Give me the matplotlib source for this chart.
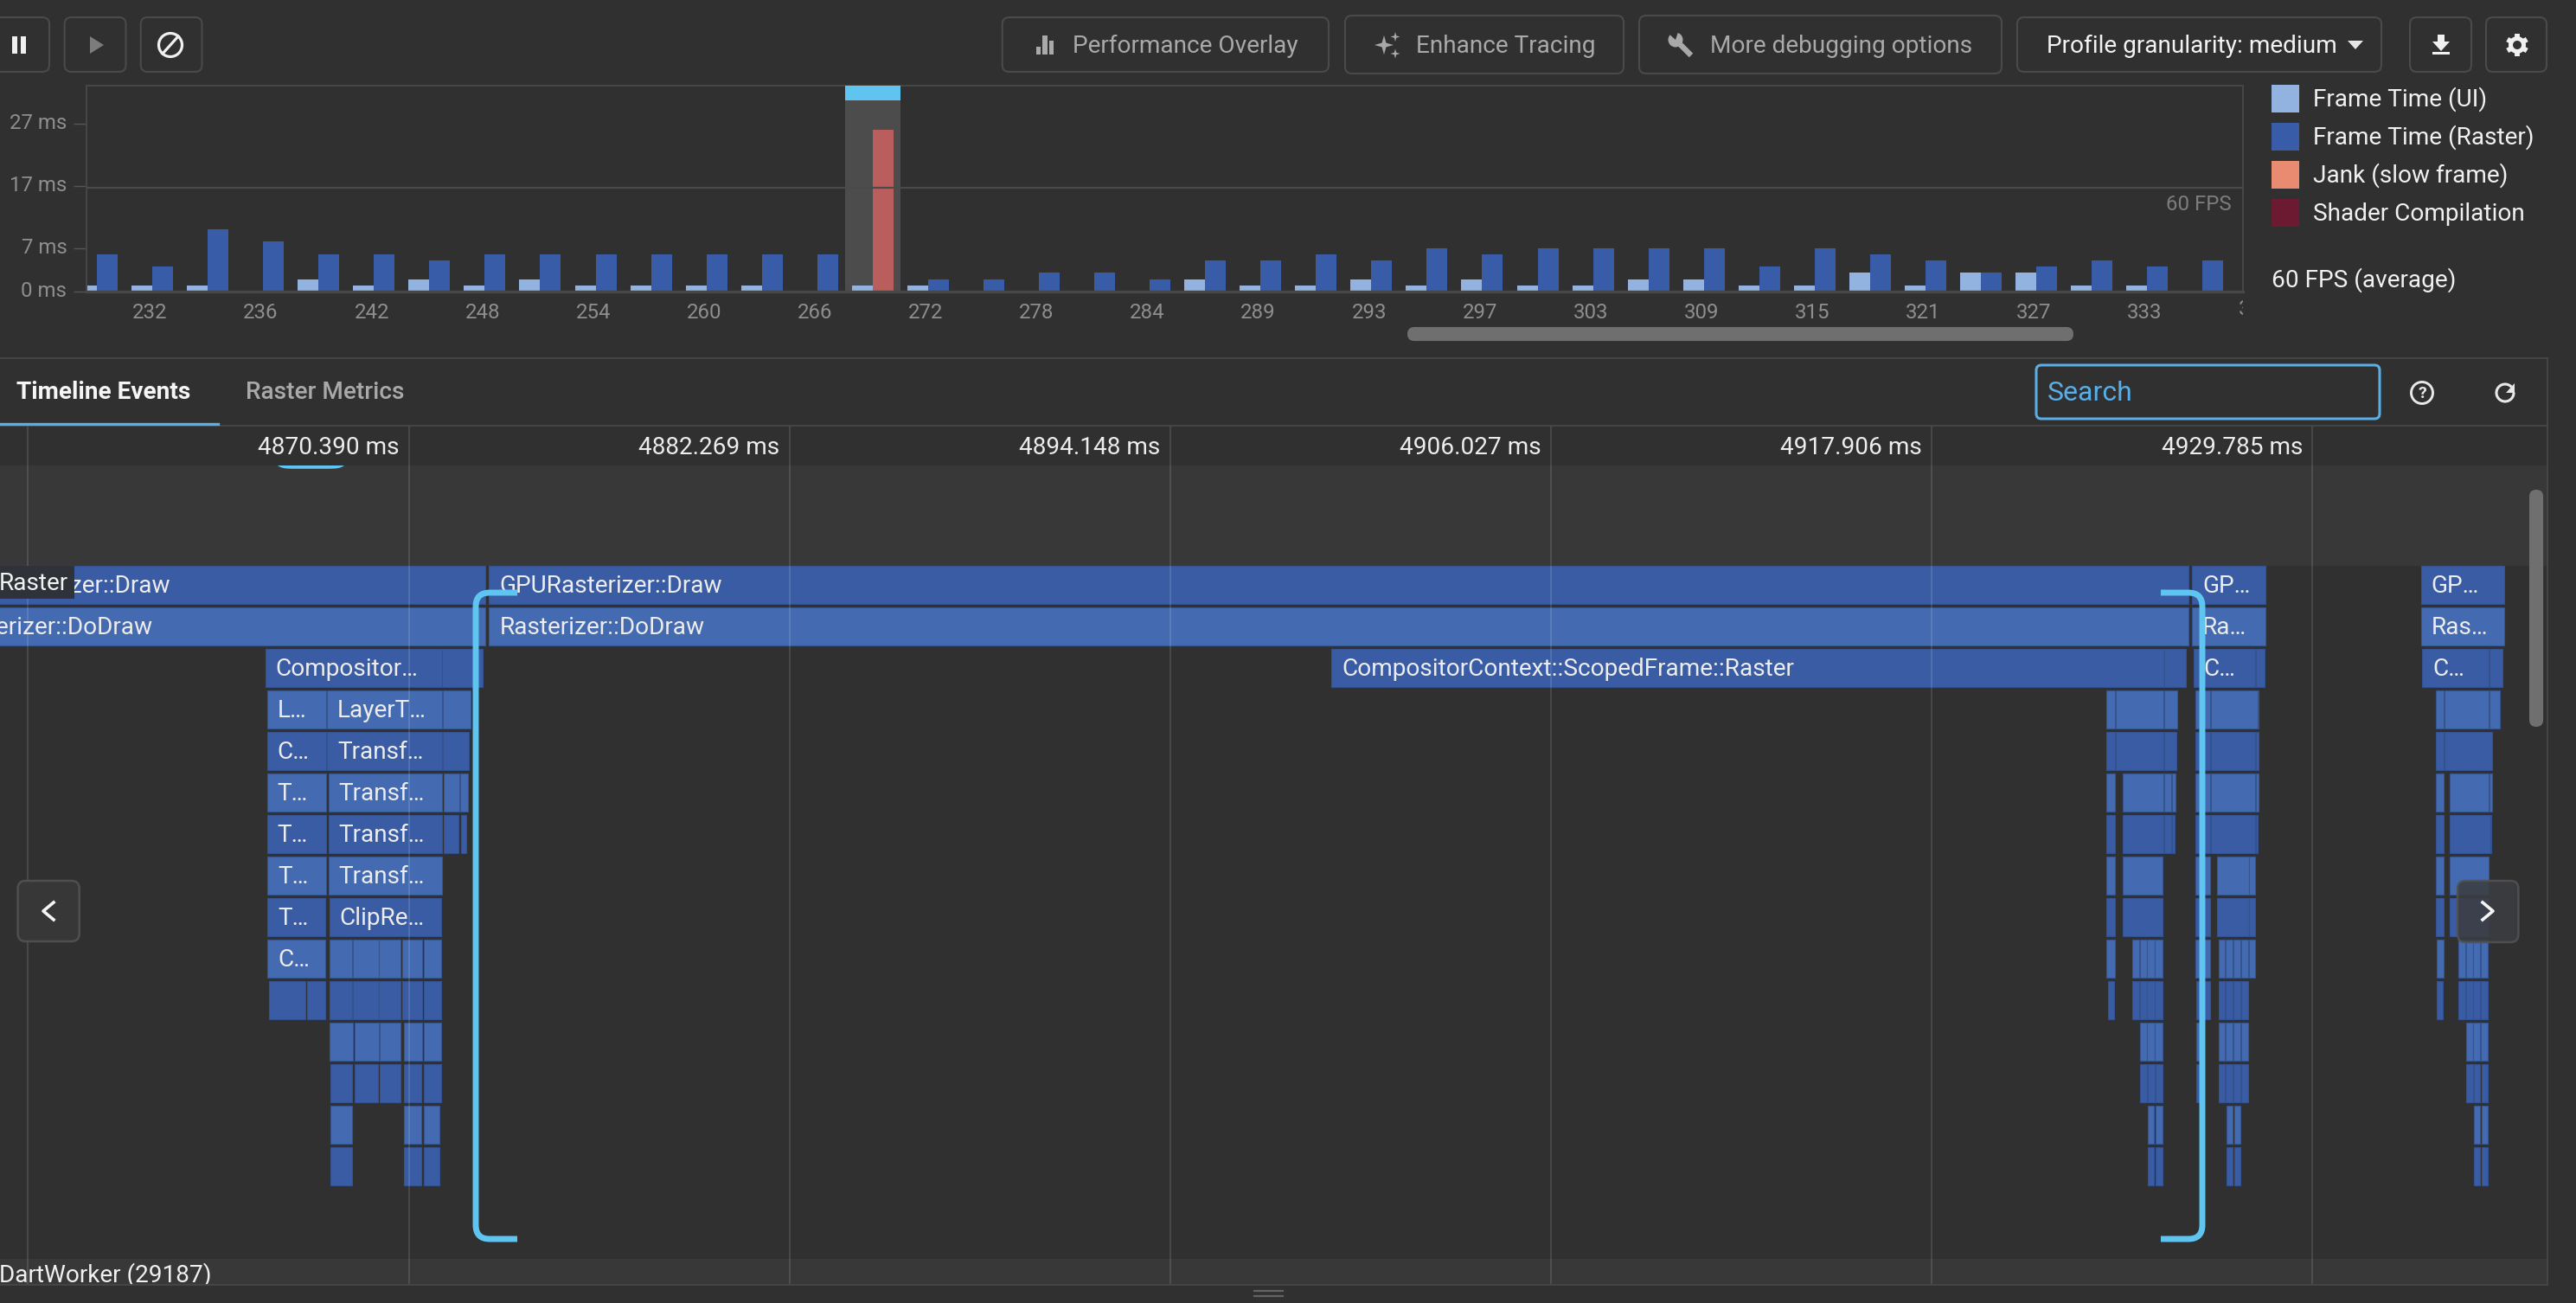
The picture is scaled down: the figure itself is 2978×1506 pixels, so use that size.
import matplotlib
matplotlib.use("Agg")
import matplotlib.pyplot as plt
import numpy as np
from matplotlib.patches import FancyBboxPatch, Rectangle, Circle, PathPatch, Polygon
from matplotlib.path import Path
from matplotlib.transforms import ScaledTranslation, Bbox

plt.rcParams['font.family'] = ['Roboto', 'DejaVu Sans']

W, H = 2978, 1506
BG = '#303030'
BORDER = '#474747'
BLUE = '#60c4f0'
UI_COL = '#92b2df'
RASTER_COL = '#385ca7'
JANK_COL = '#e98b71'
JANK_SEL = '#b95e5c'
SHADER_COL = '#6b1a32'
DARK_ROW = '#395ca5'
LIGHT_ROW = '#446bb1'

# ---- frame chart data (ms) ----
ui_ms = [1, 1, 1, 0, 2, 1, 2, 1, 2, 1, 1, 1, 1, 0, 1, 1, 0, 0, 0, 0, 2, 1,
         1, 2, 1, 2, 1, 1, 2, 2, 1, 1, 3, 1, 3, 3, 1, 1, 0]
raster_ms = [6, 4, 10, 8, 6, 6, 5, 6, 6, 6, 6, 6, 6, 6, 26, 2, 2, 3, 3, 2, 5, 5,
             6, 5, 7, 6, 7, 7, 7, 7, 4, 7, 6, 5, 3, 4, 5, 4, 5]
jank_frame = 14
frame_tick_pos = [1, 3, 5, 7, 9, 11, 13, 15, 17, 19, 21, 23, 25, 27, 29, 31, 33, 35, 37]
frame_tick_labels = ['232', '236', '242', '248', '254', '260', '266', '272', '278', '284',
                     '289', '293', '297', '303', '309', '315', '321', '327', '333']
clipped_tick_pos = 39
clipped_tick_label = '339'
y_ticks = [0, 7, 17, 27]
y_tick_labels = ['0 ms', '7 ms', '17 ms', '27 ms']
legend_labels = ['Frame Time (UI)', 'Frame Time (Raster)', 'Jank (slow frame)', 'Shader Compilation']

# ---- timeline data (ms after 4870.390) ----
time_origin = 4870.390
time_step = 11.879
time_labels = ['4870.390 ms', '4882.269 ms', '4894.148 ms', '4906.027 ms', '4917.906 ms', '4929.785 ms']

ROW_0 = [(-14, 2.40, None), (2.51, 55.53, 'GPURasterizer::Draw'), (55.64, 57.94, 'GP…'), (62.79, 65.38, 'GP…')]
ROW_1 = [(-14, 2.40, None), (2.51, 55.53, 'Rasterizer::DoDraw'), (55.64, 57.94, 'Ra…'), (62.79, 65.38, 'Ras…')]
ROW_2 = [(-4.48, 1.03, 'Compositor…'), (1.05, 2.31, None), (28.79, 54.77, 'CompositorContext::ScopedFrame::Raster'),
         (54.79, 55.45, None), (55.69, 57.61, 'C…'), (57.63, 57.91, None), (62.83, 64.90, 'C…'), (64.92, 65.32, None)]
ROW_3 = [(-4.42, -2.58, 'L…'), (-2.56, 1.05, 'LayerT…'), (1.06, 1.93, None),
         (52.97, 53.24, None), (53.26, 54.76, None), (54.77, 55.18, None),
         (55.75, 55.92, None), (55.94, 56.21, None), (56.23, 57.69, None), (57.70, 57.73, None),
         (63.25, 63.50, None), (63.51, 64.91, None), (64.92, 65.24, None)]
ROW_4 = [(-4.42, -2.58, 'C…'), (-2.54, 1.05, 'Transf…'), (1.06, 1.88, None),
         (52.97, 53.24, None), (53.26, 54.76, None), (54.77, 55.15, None),
         (55.75, 55.92, None), (55.94, 56.21, None), (56.24, 57.62, None), (57.63, 57.72, None),
         (63.25, 63.50, None), (63.51, 65.01, None)]
ROW_5 = [(-4.42, -2.58, 'T…'), (-2.51, 1.05, 'Transf…'), (1.08, 1.58, None), (1.60, 1.85, None),
         (52.97, 53.24, None), (53.47, 54.75, None), (54.77, 54.99, None), (55.01, 55.14, None),
         (55.75, 55.92, None), (55.94, 56.21, None), (56.24, 57.62, None), (57.65, 57.72, None),
         (63.25, 63.50, None), (63.68, 64.91, None), (64.92, 65.01, None)]
ROW_6 = [(-4.42, -2.58, 'T…'), (-2.51, 1.05, 'Transf…'), (1.08, 1.56, None), (1.62, 1.80, None),
         (52.97, 53.24, None), (53.47, 54.75, None), (54.77, 54.99, None), (55.02, 55.10, None),
         (55.75, 55.92, None), (55.94, 56.21, None), (56.24, 57.62, None), (57.65, 57.68, None),
         (63.25, 63.50, None), (63.68, 64.95, None), (64.96, 64.99, None)]
ROW_7 = [(-4.40, -2.58, 'T…'), (-2.51, 1.05, 'Transf…'),
         (52.98, 53.24, None), (53.49, 54.73, None),
         (55.75, 56.21, None), (56.43, 57.41, None), (57.42, 57.61, None),
         (63.25, 63.50, None), (63.69, 64.89, None)]
ROW_8 = [(-4.40, -2.60, 'T…'), (-2.48, 1.01, 'ClipRe…'),
         (52.98, 53.24, None), (53.49, 54.73, None),
         (55.75, 56.21, None), (56.43, 57.41, None), (57.42, 57.61, None),
         (63.25, 63.50, None), (63.69, 64.89, None)]
ROW_9 = [(-4.40, -2.60, 'C…'), (-2.46, -1.76, None), (-1.73, -0.94, None), (-0.92, -0.25, None),
         (-0.21, 0.42, None), (0.46, 1.01, None),
         (52.98, 53.24, None), (53.77, 54.00, None), (54.02, 54.24, None), (54.25, 54.47, None), (54.49, 54.71, None),
         (55.75, 56.21, None), (56.48, 56.68, None), (56.70, 56.92, None), (56.93, 57.16, None),
         (57.18, 57.39, None), (57.41, 57.61, None),
         (63.27, 63.50, None), (63.95, 64.17, None), (64.19, 64.40, None), (64.42, 64.64, None), (64.66, 64.88, None)]
ROW_10 = [(-4.35, -3.23, None), (-3.16, -2.60, None), (-2.46, -1.76, None), (-1.73, -0.94, None), (-0.92, -0.25, None),
          (-0.21, 0.42, None), (0.46, 1.01, None),
          (53.02, 53.20, None), (53.77, 54.00, None), (54.02, 54.24, None), (54.25, 54.47, None), (54.49, 54.71, None),
          (55.77, 56.21, None), (56.48, 56.68, None), (56.70, 56.92, None), (56.93, 57.16, None), (57.18, 57.39, None),
          (63.28, 63.46, None), (63.95, 64.17, None), (64.19, 64.40, None), (64.42, 64.64, None), (64.66, 64.88, None)]
ROW_11 = [(-2.46, -1.74, None), (-1.69, -0.94, None), (-0.90, -0.25, None), (-0.16, 0.42, None), (0.47, 1.01, None),
          (54.02, 54.24, None), (54.25, 54.47, None), (54.49, 54.71, None),
          (55.77, 55.95, None), (56.48, 56.68, None), (56.70, 56.92, None), (56.93, 57.16, None), (57.18, 57.39, None),
          (64.19, 64.40, None), (64.42, 64.64, None), (64.66, 64.88, None)]
ROW_12 = [(-2.44, -1.77, None), (-1.68, -0.96, None), (-0.90, -0.25, None), (-0.16, 0.40, None), (0.47, 1.00, None),
          (54.03, 54.24, None), (54.26, 54.47, None), (54.51, 54.71, None),
          (55.77, 55.95, None), (56.48, 56.68, None), (56.70, 56.92, None), (56.93, 57.16, None), (57.18, 57.39, None),
          (64.20, 64.40, None), (64.43, 64.64, None), (64.68, 64.88, None)]
ROW_13 = [(-2.44, -1.77, None), (-0.16, 0.40, None), (0.47, 0.96, None),
          (54.26, 54.45, None), (54.51, 54.71, None), (56.72, 56.92, None), (56.96, 57.15, None),
          (64.43, 64.62, None), (64.68, 64.88, None)]
ROW_14 = list(ROW_13)
FLAME_ROWS = [ROW_0, ROW_1, ROW_2, ROW_3, ROW_4, ROW_5, ROW_6, ROW_7, ROW_8, ROW_9,
              ROW_10, ROW_11, ROW_12, ROW_13, ROW_14]


def px_axes(l, t, r, b, **kw):
    return fig.add_axes([l / W, 1 - b / H, (r - l) / W, (b - t) / H], **kw)


FS = 20.2
FS_S = 17.3

fig = plt.figure(figsize=(W / 100, H / 100), dpi=100, facecolor=BG)

# =============== frame chart ===============
ax = px_axes(99.5, 99, 2593, 337, facecolor=BG)
idx = np.arange(len(ui_ms))
bw = 0.375
rc = [JANK_SEL if i == jank_frame else RASTER_COL for i in idx]
ax.axvspan(jank_frame - 0.5, jank_frame + 0.5, color='#4b4c4b', lw=0, zorder=1)
ax.axvspan(jank_frame - 0.5, jank_frame + 0.5, ymin=1 - 17 / 238, ymax=1, color=BLUE, lw=0, zorder=4)
ax.bar(idx - bw, ui_ms, width=bw, align='edge', color=UI_COL, zorder=2)
ax.bar(idx, raster_ms, width=bw, align='edge', color=rc, zorder=2)
ax.hlines(16.67, -1, 40, color='#4a4a4a', lw=1.6, zorder=3)
ax.text(0.9945, 100.5 / 238 - 0.001, '60 FPS', transform=ax.transAxes, ha='right', va='center',
        color='#7d7d7d', fontsize=FS_S)
for s in ax.spines.values():
    s.set_color(BORDER)
    s.set_linewidth(1.4)
ax.spines['bottom'].set_linewidth(2.4)
ax.set_yticks(y_ticks)
ax.set_yticklabels(y_tick_labels)
ax.set_xticks(np.array(frame_tick_pos) - 0.04)
ax.set_xticklabels(frame_tick_labels)
ax.set_xlim(-0.195, 38.73)
ax.set_ylim(0, 238 / 7.2)
ax.tick_params(axis='x', length=0, pad=9, labelsize=FS_S, labelcolor='#8e8e8e')
ax.tick_params(axis='y', length=11, width=1, color='#555555', pad=5, labelsize=FS_S, labelcolor='#8e8e8e')
for lab in ax.get_yticklabels():
    lab.set_transform(lab.get_transform() + ScaledTranslation(0, 0.03, fig.dpi_scale_trans))
t39 = ax.text(clipped_tick_pos - 0.04, -21 / 238, clipped_tick_label, transform=ax.get_xaxis_transform(),
              ha='center', va='center', color='#8e8e8e', fontsize=FS_S, clip_on=True)
t39.set_clip_box(Bbox([[0, 0], [2593, H]]))

# =============== flame chart ===============
PX_MS = 37.05
T0_PX = 472.5
fl = px_axes(0, 492, 2945, 1485, facecolor=BG)
fl.set_xlim(-T0_PX / PX_MS, (2945 - T0_PX) / PX_MS)
RH = 48.0
fl.set_ylim((1485 - 653.6) / RH, (492 - 653.6) / RH)
for s in fl.spines.values():
    s.set_visible(False)
fl.axhspan((538 - 653.6) / RH, 0, color='#383838', lw=0, zorder=0)
fl.axhspan((1455 - 653.6) / RH, (1485 - 653.6) / RH, color='#383838', lw=0, zorder=0)
LY = 0.50
for r, row in enumerate(FLAME_ROWS):
    col = LIGHT_ROW if r % 2 else DARK_ROW
    edge = '#36558f' if r % 2 else '#33528f'
    for s0, s1, label in row:
        fl.barh(r, s1 - s0, left=s0, height=44 / RH, align='edge', color=col, edgecolor=edge, lw=0.8, zorder=2)
        if label:
            fl.text(s0 + 12 / PX_MS, r + LY, label, color='#ececec', fontsize=FS, va='center', ha='left',
                    zorder=5, clip_on=True)
fl.text(-7.44, LY, 'GPURasterizer::Draw', color='#ececec', fontsize=FS, va='center', ha='right', zorder=5, clip_on=True)
fl.text(-7.98, 1 + LY, 'Rasterizer::DoDraw', color='#ececec', fontsize=FS, va='center', ha='right', zorder=5, clip_on=True)
fl.text(-12.79, (1474 - 653.6) / RH, 'DartWorker (29187)', color='#f0f0f0', fontsize=FS, va='center',
        ha='left', zorder=5, clip_on=True)
ticks = np.arange(-1, 6) * 440.1 / PX_MS
fl.set_xticks(ticks)
fl.set_xticklabels([])
fl.set_yticks([])
fl.tick_params(axis='x', length=0)
for t in ticks:
    fl.axvline(t, color='#ffffff', alpha=0.13, lw=1.3, zorder=4)
for t, lab in zip(ticks[1:], time_labels):
    fl.text(t - 11 / PX_MS, (517 - 653.6) / RH, lab, color='#ededed', fontsize=FS, ha='right', va='center', zorder=5)

# =============== chrome overlay (pixel coords) ===============
ov = fig.add_axes([0, 0, 1, 1], zorder=10)
ov.set_xlim(0, W)
ov.set_ylim(H, 0)
ov.axis('off')


def rbox(l, t, r, b, rad=8, fc='none', ec='#4a4a4a', lw=1.5, z=3, alpha=None):
    ov.add_patch(FancyBboxPatch((l + rad, t + rad), r - l - 2 * rad, b - t - 2 * rad,
                                boxstyle=f'round,pad={rad},rounding_size={rad}', fc=fc, ec=ec, lw=lw, zorder=z, alpha=alpha))


def txt(x, y, s, color='#ededed', size=FS, ha='left', **kw):
    ov.text(x, y + 2, s, color=color, fontsize=size, ha=ha, va='center', zorder=8, **kw)


def star(cx, cy, s, col, k=0.22):
    ov.add_patch(Polygon([(cx, cy - s), (cx + s * k, cy - s * k), (cx + s, cy), (cx + s * k, cy + s * k),
                          (cx, cy + s), (cx - s * k, cy + s * k), (cx - s, cy), (cx - s * k, cy - s * k)],
                         fc=col, ec='none', zorder=8))


# toolbar
for l, t, r, b in [(-20, 20, 57, 83), (74.6, 20, 145.5, 83), (162.7, 20, 233.5, 83),
                   (1158.7, 20, 1536, 83), (1555, 18, 1877, 85), (1895, 18, 2314, 85),
                   (2332, 20, 2753, 83), (2786, 20, 2857, 83), (2874, 20, 2944, 83)]:
    rbox(l, t, r, b)
GREY_T = '#a9a9a9'
txt(1240, 51, 'Performance Overlay', GREY_T)
txt(1637, 51, 'Enhance Tracing', GREY_T)
txt(1977, 51, 'More debugging options', GREY_T)
txt(2366, 51, 'Profile granularity: medium', '#f2f2f2')
# icons
for x0 in (14, 24):
    ov.add_patch(Rectangle((x0, 42), 6, 20, fc='#f0f0f0', ec='none', zorder=8))
ov.add_patch(Polygon([(104, 42), (104, 62), (120, 52)], fc='#7c7c7c', ec='none', zorder=8))
ov.add_patch(Circle((197, 52), 13.5, fc='none', ec='#f0f0f0', lw=2.3, zorder=8))
ov.plot([188, 206], [62, 42], color='#f0f0f0', lw=2.3, zorder=8)
for x0, x1, top in ((1198, 1203, 54), (1205, 1211, 41), (1213, 1218, 47)):
    ov.add_patch(Rectangle((x0, top), x1 - x0, 63 - top, fc=GREY_T, ec='none', zorder=8))
star(1600, 52, 11, GREY_T)
star(1613, 42.5, 5.5, GREY_T)
star(1613, 62, 5.5, GREY_T)
# wrench
ov.plot([1938, 1955], [47, 64], color=GREY_T, lw=4.6, solid_capstyle='butt', zorder=8)
ov.add_patch(Circle((1937, 46), 8.5, fc=GREY_T, ec='none', zorder=8))
ov.add_patch(Polygon([(1937, 46), (1928, 38), (1941, 34)], fc=BG, ec='none', zorder=9))
ov.add_patch(Polygon([(2714, 47), (2732, 47), (2723, 57)], fc='#e6e6e6', ec='none', zorder=8))
# download
ov.add_patch(Polygon([(2812, 48), (2832, 48), (2822, 59)], fc='#f0f0f0', ec='none', zorder=8))
ov.add_patch(Rectangle((2818, 40), 8, 9, fc='#f0f0f0', ec='none', zorder=8))
ov.add_patch(Rectangle((2812, 60), 20, 3, fc='#f0f0f0', ec='none', zorder=8))
# gear
for ang in np.deg2rad([90, 150, 210, 270, 330, 30]):
    ov.plot([2910, 2910 + 13 * np.cos(ang)], [52, 52 + 13 * np.sin(ang)], color='#f0f0f0', lw=4.2,
            solid_capstyle='butt', zorder=8)
ov.add_patch(Circle((2910, 52), 10, fc='#f0f0f0', ec='none', zorder=8))
ov.add_patch(Circle((2910, 52), 5, fc=BG, ec='none', zorder=9))

# legend (real legend, pixel-placed)
handles = [Rectangle((0, 0), 1, 1, fc=c, ec='none') for c in (UI_COL, RASTER_COL, JANK_COL, SHADER_COL)]
leg = ov.legend(handles, legend_labels, loc='upper left', bbox_to_anchor=(2626 / W, 1 - 97.5 / H),
                bbox_transform=fig.transFigure, frameon=False, borderpad=0, borderaxespad=0,
                fontsize=FS, handlelength=1.14, handleheight=1.39, labelspacing=0.42,
                handletextpad=0.58, labelcolor='#f0f0f0')
txt(2626, 322, '60 FPS (average)', '#f0f0f0')

# overview scrollbar
ov.add_patch(FancyBboxPatch((1635, 386), 754, 0.1, boxstyle='round,pad=8,rounding_size=8', fc='#6f6f6f', ec='none', zorder=3))

# tab bar
ov.plot([0, 2945], [414, 414], color=BORDER, lw=1.3, zorder=3)
ov.plot([0, 2945], [492, 492], color=BORDER, lw=1.3, zorder=3)
ov.plot([2945, 2945], [414, 1485], color=BORDER, lw=1.3, zorder=3)
ov.plot([0, 2945], [1485, 1485], color=BORDER, lw=1.3, zorder=3)
txt(19, 451, 'Timeline Events', '#f5f5f5', fontweight='bold')
ov.plot([0, 252], [490, 490], color='#5aaee8', lw=2.4, zorder=4)
txt(284, 451, 'Raster Metrics', '#a9a9a9', fontweight='medium')
rbox(2354, 422, 2751, 484, rad=6, ec='#5aaee8', lw=2.2)
txt(2367, 452, 'Search', '#5aaee8', size=23)
ov.add_patch(Circle((2800, 454), 12.5, fc='none', ec='#e8e8e8', lw=2.1, zorder=8))
ov.text(2800, 455, '?', color='#e8e8e8', fontsize=14, fontweight='bold', ha='center', va='center', zorder=8)
theta = np.linspace(0.03 * np.pi, 1.72 * np.pi, 50)
ov.plot(2896 + 10 * np.cos(theta), 454 + 10 * np.sin(theta), color='#e8e8e8', lw=2.2, zorder=8)
ov.add_patch(Polygon([(2907, 443), (2907, 454), (2896.5, 454)], fc='#e8e8e8', ec='none', zorder=8))

# small marker in band (flat top, curved bottom)
mx = np.linspace(321, 398, 40)
my = 538 + 3.8 * (1 - ((mx - 359.5) / 38.5) ** 8)
ov.add_patch(Polygon(np.column_stack([mx, my]), fc=BLUE, ec='none', zorder=3))

# sticky label
ov.add_patch(Rectangle((0, 653.6), 86, 38.5, fc='#2f3238', ec='none', zorder=5))
txt(-1, 672, 'Raster', '#f2f2f2')


# selection brackets
def bracket(xv, xend, y0, y1, rad=16):
    d = 1 if xend > xv else -1
    verts = [(xend, y0), (xv + d * rad, y0), (xv, y0), (xv, y0 + rad), (xv, y1 - rad), (xv, y1), (xv + d * rad, y1), (xend, y1)]
    codes = [Path.MOVETO, Path.LINETO, Path.CURVE3, Path.CURVE3, Path.LINETO, Path.CURVE3, Path.CURVE3, Path.LINETO]
    ov.add_patch(PathPatch(Path(verts, codes), fc='none', ec=BLUE, lw=5, capstyle='butt', zorder=6))


bracket(550, 598, 685, 1432)
bracket(2546, 2498, 685, 1432)

# vertical scrollbar
ov.add_patch(FancyBboxPatch((2932, 574), 0.1, 258, boxstyle='round,pad=8,rounding_size=8', fc='#6f6f6f', ec='none', zorder=3))

# nav buttons
rbox(20.6, 1018, 91.7, 1088, rad=9, fc='#373737', ec='#4f4f4f', lw=1.8, z=6)
ov.plot([62, 50, 62], [1043, 1053, 1063], color='#f5f5f5', lw=2.6, zorder=8)
rbox(2841, 1018, 2911.4, 1089, rad=9, fc='#3c3d40', ec='#525252', lw=1.8, z=6, alpha=0.88)
ov.plot([2870, 2882, 2870], [1043, 1053, 1063], color='#f5f5f5', lw=2.6, zorder=8)

# bottom grip
ov.plot([1450, 1483], [1492, 1492], color='#636363', lw=1.6, zorder=3)
ov.plot([1450, 1483], [1498, 1498], color='#636363', lw=1.6, zorder=3)

fig.savefig('out.png', dpi=100, facecolor=BG)
